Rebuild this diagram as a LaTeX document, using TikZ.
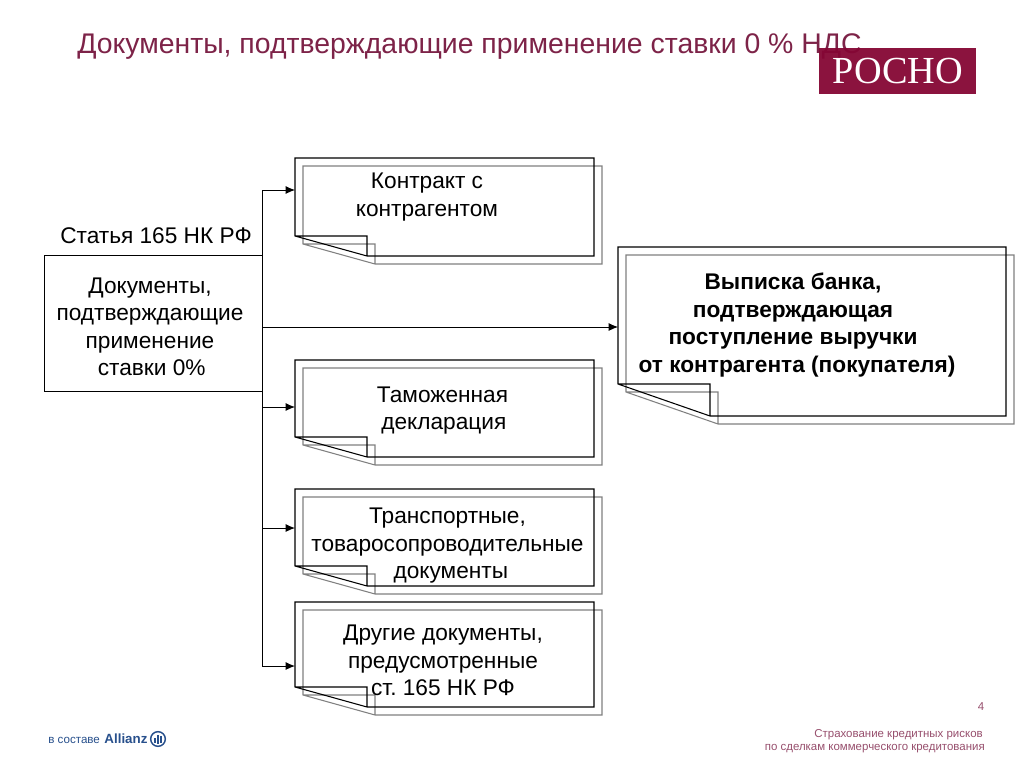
\documentclass[tikz,border=0pt]{standalone}
\usepackage{fontspec}
\setmainfont{Liberation Sans}
\newfontfamily\logofont{Liberation Serif}
\usepackage{tikz}
\usetikzlibrary{arrows.meta,calc,fit}
\frenchspacing
\definecolor{roscho}{RGB}{133,6,52}
\definecolor{titlered}{RGB}{125,35,72}
\definecolor{allianzblue}{RGB}{40,80,140}
\tikzstyle{sheet}=[inner sep=0pt, outer sep=0pt]
\tikzstyle{pagefront}=[draw, color=black, line width=0.8pt]
\tikzstyle{pageback}=[draw, color=black!50, line width=0.8pt]
\tikzstyle{texto}=[align=center, font=\fontsize{17}{20.6}\selectfont, inner sep=0pt]
\tikzstyle{line}=[draw, color=black, line width=0.7pt, -{Latex[length=7pt,width=6pt]}]
\tikzstyle{trunk}=[draw, color=black, line width=0.7pt]
\tikzstyle{footer}=[color=titlered!80, font=\fontsize{8.6}{10}\selectfont, inner sep=0pt]
\newcommand{\pagesheet}[4]{%
  \path [#2] (#1.north west) -- (#1.north east) -- (#1.south east)
    -- ($(#1.south west)+(#3,0)$) -- ($(#1.south west)+(0,-#4)$) -- cycle
    ($(#1.south west)+(0,-#4)$) -- ++(#3,0) -- ($(#1.south west)+(#3,0)$);}
% name, left, top, right, bottom, fold width, fold height
\newcommand{\pagelayer}[7]{%
  \node (#1) [sheet, fit={(#2,#3) (#4,#5)}] {};
  \node (#1BACK) [sheet, fit={(#2+8,#3+8) (#4+8,#5+8)}] {};
  \pagesheet{#1BACK}{pageback}{#6}{#7}
  \pagesheet{#1}{pagefront}{#6}{#7}}

\begin{document}
\begin{tikzpicture}[x=0.75pt,y=-0.75pt]
  \useasboundingbox (0,0) rectangle (1024,768);

  % title and logo
  \node (TITLE) [anchor=base west, inner sep=0pt, color=titlered,
    font=\fontsize{21.3}{26}\selectfont] at (77,53)
    {Документы, подтверждающие применение ставки 0 \% НДС};
  \node (LOGO) [anchor=north west, inner sep=0pt, fill=roscho, fill opacity=0.95,
    minimum width=117.75pt, minimum height=34.5pt] at (819,48) {};
  \node (LOGOTEXT) [color=white, inner sep=0pt, font=\logofont\fontsize{28.7}{28.7}\selectfont]
    at (LOGO.center) {РОСНО};

  % source block
  \node (DOCS) [draw, line width=0.7pt, sheet, fit={(44,255) (262,391)}] {};
  \path (DOCS.north)+(3,-19) node (ARTICLE) [texto] {Статья 165 НК РФ};
  \path (DOCS.center)+(-3,4) node (DOCSTEXT) [texto]
    {Документы,\\ подтверждающие\\ применение\\ \hspace*{2.5pt}ставки 0\%};

  % document sheets
  \pagelayer{CONTRACT}{295}{158}{594}{256}{72}{20}
  \pagelayer{CUSTOMS}{295}{360}{594}{457}{72}{20}
  \pagelayer{TRANSPORT}{295}{489}{594}{586}{72}{20}
  \pagelayer{OTHER}{295}{602}{594}{707}{72}{20}
  \pagelayer{BANK}{618}{247}{1006}{416}{92}{32}

  \path (CONTRACT.center)+(-17.5,-10) node (CONTRACTTEXT) [texto]
    {Контракт с\\ контрагентом};
  \path (CUSTOMS.center)+(-2,2) node (CUSTOMSTEXT) [texto]
    {Таможенная\\ \hspace*{2pt}декларация};
  \path (TRANSPORT.center)+(3,8.5) node (TRANSPORTTEXT) [texto]
    {Транспортные,\\ товаросопроводительные\\ \hspace*{5pt}документы};
  \path (OTHER.center)+(-1.5,6) node (OTHERTEXT) [texto]
    {Другие документы,\\ предусмотренные\\ ст. 165 НК РФ};
  \path (BANK.center)+(-19,-6.5) node (BANKTEXT) [texto, font=\fontsize{17}{20.6}\selectfont\bfseries]
    {Выписка банка,\\ подтверждающая\\ поступление выручки\\ \hspace*{6pt}от контрагента (покупателя)};

  % trunk and arrows
  \coordinate (TRUNKA) at (262,190);
  \coordinate (TRUNKB) at (262,327);
  \coordinate (TRUNKC) at (262,407);
  \coordinate (TRUNKD) at (262,528);
  \coordinate (TRUNKE) at (262,666);
  \path [trunk] (TRUNKA) -- (TRUNKE);
  \path [line] (TRUNKA) -- (TRUNKA -| CONTRACT.west);
  \path [line] (TRUNKB) -- (TRUNKB -| BANK.west);
  \path [line] (TRUNKC) -- (TRUNKC -| CUSTOMS.west);
  \path [line] (TRUNKD) -- (TRUNKD -| TRANSPORT.west);
  \path [line] (TRUNKE) -- (TRUNKE -| OTHER.west);

  % footer
  \node (PAGENO) [footer] at (981,707) {4};
  \node (FOOTTEXT) [footer, align=right, anchor=north east] at (985,729)
    {Страхование кредитных рисков\hspace*{1.5pt}\\ по сделкам коммерческого кредитования};
  \node (GROUP) [anchor=base west, inner sep=0pt, color=allianzblue,
    font=\fontsize{8.7}{8}\selectfont] at (48,743) {в составе};
  \path (GROUP.base east)+(4,0) node (ALLIANZ) [anchor=base west, inner sep=0pt,
    color=allianzblue, font=\fontsize{10}{9}\selectfont\bfseries] {Allianz};
  \node (ROUNDEL) [circle, draw=allianzblue, line width=1.1pt, inner sep=0pt,
    minimum size=11pt] at (158,739) {};
  \path [draw, color=allianzblue, line width=1.1pt] (ROUNDEL.center)+(-2.8,3.5) -- +(-2.8,-1)
    (ROUNDEL.center)+(0,4.5) -- +(0,-4.5) (ROUNDEL.center)+(2.8,3.5) -- +(2.8,-3.5);
\end{tikzpicture}
\end{document}
